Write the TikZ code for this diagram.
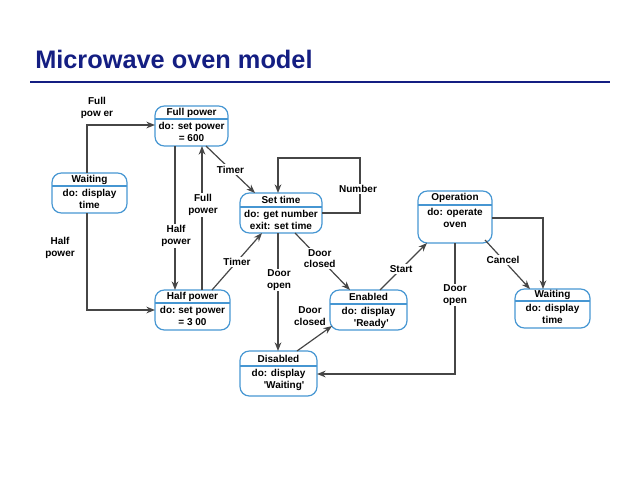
\documentclass[tikz,border=0pt]{standalone}
\usepackage{fontspec}
\setmainfont{Liberation Sans}
\usetikzlibrary{arrows.meta}
\definecolor{bx}{RGB}{70,150,210}
\definecolor{ttl}{RGB}{20,30,130}
\definecolor{ln}{RGB}{70,70,70}
\begin{document}
\begin{tikzpicture}[x=0.75pt,y=-0.75pt,
  st/.style={draw=bx,line width=0.9pt,rounded corners=7pt},
  dv/.style={draw=bx,line width=0.8pt},
  tx/.style={font=\fontsize{7.5}{8.5}\selectfont\bfseries,align=center,inner sep=1pt},
  lb/.style={tx,fill=white},
  ar/.style={draw=ln,line width=0.9pt,-{Stealth[length=6.5pt,width=5pt]}}]
\useasboundingbox (0,0) rectangle (638,493);
\node[anchor=west,font=\fontsize{19}{22}\selectfont\bfseries,text=ttl,inner sep=0] (title) at (35,59) {Microwave oven model};
\draw[ttl,line width=0.8pt] (30,82) -- (610,82);
\newcommand{\stbox}[8]{%
  \draw[st] (#2,#3) rectangle (#4,#5);
  \draw[dv] (#2,#6) -- (#4,#6);
  \node[tx] (#1) at ({(#2+#4)/2},{(#3+#5)/2}) {};
  \node[tx] (#1t) at ({(#2+#4)/2},{(#3+#6)/2}) {#7};
  \node[tx,anchor=north] (#1b) at ({(#2+#4)/2},{#6+2}) {#8};}
\stbox{wl}{52}{173}{127}{213}{186}{Waiting}{do: display\\time}
\stbox{fp}{155}{106}{228}{146}{119}{Full power}{do: set power\\= 600}
\stbox{stt}{240}{193}{322}{233}{207}{Set time}{do: get number\\exit: set time}
\stbox{hp}{155}{290}{230}{330}{303}{Half power}{do:\ set power\\= 3 00}
\stbox{en}{330}{290}{407}{330}{304}{Enabled}{do: display\\\ \ \textquotesingle Ready\textquotesingle}
\stbox{di}{240}{351}{317}{396}{366}{Disabled}{do: display\\\ \ \ \ \textquotesingle Waiting\textquotesingle}
\stbox{op}{418}{191}{492}{243}{205}{Operation}{do: operate\\oven}
\stbox{wr}{515}{289}{590}{328}{301}{Waiting}{do: display\\time}
\coordinate (c1) at (87,173); \coordinate (c1e) at (155,125);
\draw[ar] (c1) |- (c1e);
\node[tx] (l1) at (97,108) {Full\\pow er};
\coordinate (c2) at (87,213); \coordinate (c2e) at (155,310);
\draw[ar] (c2) |- (c2e);
\node[tx] (l2) at (60,248) {Half\\power};
\draw[ar] (175,146) -- (175,290);
\node[lb] (l3) at (176,236) {Half\\power};
\draw[ar] (202,290) -- (202,146);
\node[lb] (l4) at (203,205) {Full\\power};
\draw[ar] (206,146) -- node[lb,pos=0.5] (l5) {Timer} (255,193);
\draw[ar] (212,290) -- node[lb,pos=0.5] (l6) {Timer} (262,233);
\draw[ar] (322,213) -- (360,213) -- (360,158) -- (278,158) -- (278,193);
\node[lb] (l7) at (358,189) {Number};
\draw[ar] (278,233) -- (278,351);
\node[lb] (l8) at (279,280) {Door\\open};
\draw[ar] (295,233) -- node[lb,pos=0.45] (l9) {Door\\closed} (350,290);
\draw[ar] (297,351) -- (332,326);
\node[tx] (l10) at (310,316) {Door\\closed};
\draw[ar] (380,290) -- node[lb,pos=0.45] (l11) {Start} (427,243);
\draw[ar] (455,243) |- (317,374);
\node[lb] (l12) at (455,295) {Door\\open};
\draw[ar] (492,218) -| (543,289);
\draw[ar] (485,240) -- node[lb,pos=0.4] (l13) {Cancel} (530,289);
\end{tikzpicture}
\end{document}
